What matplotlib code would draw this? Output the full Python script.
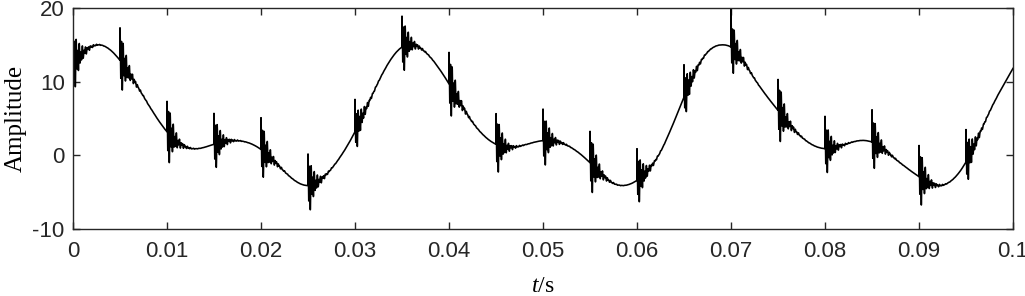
import numpy as np
import matplotlib
matplotlib.use("Agg")
import matplotlib.pyplot as plt

# smooth part of the signal (t in s, amplitude)
base_t = [0, 0.0027, 0.005, 0.0075, 0.01, 0.0128, 0.015, 0.0174, 0.02, 0.0225,
          0.025, 0.0275, 0.03, 0.0325, 0.035, 0.0362, 0.0375, 0.04, 0.0425, 0.045,
          0.0468, 0.05, 0.0525, 0.055, 0.0575, 0.0585, 0.06, 0.0625, 0.065, 0.0675,
          0.0692, 0.07, 0.0725, 0.075, 0.0775, 0.08, 0.0837, 0.085, 0.0875, 0.09,
          0.0922, 0.095, 0.0975, 0.1]
base_v = [12.5, 15.0, 12.9, 8.0, 3.2, 0.9, 1.5, 2.0, 0.8, -2.2,
          -4.1, -1.8, 3.2, 10.0, 14.7, 15.0, 14.0, 9.7, 4.5, 1.5,
          1.1, 2.0, 1.4, -1.0, -3.8, -4.1, -3.4, 0.5, 7.9, 14.0,
          15.0, 14.7, 10.4, 6.1, 2.5, 0.9, 2.0, 1.8, -0.5, -2.9,
          -4.1, -0.9, 5.9, 11.8]

# impulse bursts every 5 ms: highest and lowest point of each burst
burst_t = [0.005 * k for k in range(20)]
burst_top = [16.5, 17.3, 7.2, 5.7, 5.1, 0.2, 7.6, 18.9, 13.9, 5.6,
             6.3, 3.2, 0.9, 12.3, 20.0, 10.2, 5.3, 6.2, 1.3, 3.5]
burst_bot = [9.0, 9.3, -0.6, -1.7, -2.7, -7.4, 0.6, 11.4, 5.9, -2.1,
             -1.3, -4.7, -6.5, 5.2, 11.4, 2.3, -2.3, -1.6, -6.5, -3.8]

xticks = [0, 0.01, 0.02, 0.03, 0.04, 0.05, 0.06, 0.07, 0.08, 0.09, 0.1]
xticklabels = ["0", "0.01", "0.02", "0.03", "0.04", "0.05", "0.06", "0.07", "0.08", "0.09", "0.1"]
yticks = [-10, 0, 10, 20]


def natural_spline(xk, yk, x):
    xk = np.asarray(xk, float)
    yk = np.asarray(yk, float)
    n = len(xk)
    h = np.diff(xk)
    A = np.zeros((n, n))
    r = np.zeros(n)
    A[0, 0] = A[-1, -1] = 1
    for i in range(1, n - 1):
        A[i, i - 1] = h[i - 1]
        A[i, i] = 2 * (h[i - 1] + h[i])
        A[i, i + 1] = h[i]
        r[i] = 6 * ((yk[i + 1] - yk[i]) / h[i] - (yk[i] - yk[i - 1]) / h[i - 1])
    m = np.linalg.solve(A, r)
    idx = np.clip(np.searchsorted(xk, x) - 1, 0, n - 2)
    x0, x1 = xk[idx], xk[idx + 1]
    hh = x1 - x0
    a = (x1 - x) / hh
    b = (x - x0) / hh
    return (a * yk[idx] + b * yk[idx + 1]
            + ((a ** 3 - a) * m[idx] + (b ** 3 - b) * m[idx + 1]) * hh ** 2 / 6)


t = np.linspace(0, 0.1, 50001)
y = natural_spline(base_t, base_v, t)
base_at = natural_spline(base_t, base_v, np.array(burst_t))

# burst shape: fast damped ringing plus a slower, weaker lobe
f_osc = 6000.0
f_low = 3300.0
tau = 0.00055
tau_s = 0.00002
half = 0.5 / f_osc
for tk, b0, top, bot in zip(burst_t, base_at, burst_top, burst_bot):
    dt = t - tk
    on = dt >= 0
    d = dt[on]
    a_up = top - b0
    a_dn = (b0 - bot) / np.exp(-half / tau)
    ring = a_dn * np.exp(-d / tau) * np.cos(2 * np.pi * f_osc * d)
    ring += 0.35 * a_dn * np.exp(-d / (1.4 * tau)) * np.sin(2 * np.pi * f_low * d)
    y[on] += ring + (a_up - a_dn) * np.exp(-d / tau_s)

plt.rcParams["font.family"] = ["Liberation Sans", "DejaVu Sans"]
plt.rcParams["axes.unicode_minus"] = False
plt.rcParams["mathtext.fontset"] = "custom"
plt.rcParams["mathtext.it"] = "Liberation Serif:italic"
plt.rcParams["mathtext.rm"] = "Liberation Serif"

fig = plt.figure(figsize=(10.25, 2.96), dpi=100)
ax = fig.add_axes([0.0712, 0.2264, 0.9171, 0.7466])
ax.plot(t, y, color="black", lw=1.15)

ax.set_xlim(0, 0.1)
ax.set_ylim(-10, 20)
ax.set_xticks(xticks)
ax.set_xticklabels(xticklabels)
ax.set_yticks(yticks)
ax.tick_params(direction="in", top=True, right=True, length=5, width=1,
               color="#262626", labelsize=16, labelcolor="#262626")
ax.tick_params(axis="x", pad=9)
ax.tick_params(axis="y", pad=6)
for s in ax.spines.values():
    s.set_color("#262626")
    s.set_linewidth(1)

ax.set_xlabel(r"$t$/s", family="Liberation Serif", fontsize=17, labelpad=10)
ax.set_ylabel("Amplitude", family="Liberation Serif", fontsize=18, labelpad=4)

fig.savefig("out.png", dpi=100)
